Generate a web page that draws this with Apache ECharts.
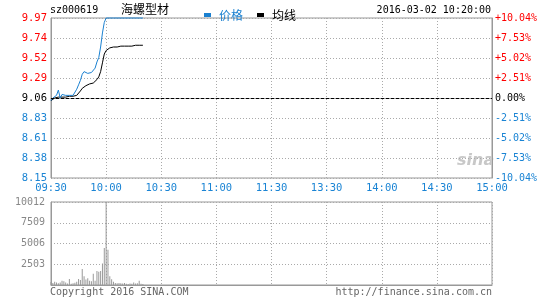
<!DOCTYPE html>
<html>
<head>
<meta charset="utf-8">
<title>海螺型材 分时</title>
<script src="https://cdn.jsdelivr.net/npm/echarts@6/dist/echarts.min.js"></script>
<style>
  html, body { margin: 0; padding: 0; background: #fff; }
  #chart { width: 545px; height: 300px; }
</style>
</head>
<body>
<div id="chart"></div>
<script>
  // 分时数据 09:30 起每分钟一个点
  const xLabels = ['09:30', '10:00', '10:30', '11:00', '11:30', '13:30', '14:00', '14:30', '15:00'];
  const priceLabels = ['8.15', '8.38', '8.61', '8.83', '9.06', '9.29', '9.52', '9.74', '9.97'];
  const pctLabels = ['-10.04%', '-7.53%', '-5.02%', '-2.51%', '0.00%', '+2.51%', '+5.02%', '+7.53%', '+10.04%'];
  const volLabels = ['', '2503', '5006', '7509', '10012'];

  const preClose = 9.06;
  const limitUp = 9.97;

  const priceData = [9.03, 9.06, 9.07, 9.09, 9.15, 9.06, 9.10, 9.08, 9.09, 9.08,
    9.09, 9.08, 9.09, 9.10, 9.16, 9.21, 9.26, 9.33, 9.36, 9.37,
    9.34, 9.32, 9.35, 9.37, 9.40, 9.47, 9.52, 9.64, 9.80, 9.92,
    9.97, 9.97, 9.97, 9.97, 9.97, 9.97, 9.97, 9.97, 9.97, 9.97,
    9.97, 9.97, 9.97, 9.97, 9.97, 9.97, 9.97, 9.97, 9.97, 9.97, 9.97];
  const avgData = [9.03, 9.05, 9.06, 9.06, 9.07, 9.07, 9.07, 9.07, 9.07, 9.08,
    9.08, 9.08, 9.08, 9.08, 9.09, 9.11, 9.14, 9.17, 9.19, 9.20,
    9.21, 9.22, 9.22, 9.23, 9.25, 9.27, 9.30, 9.36, 9.46, 9.56,
    9.60, 9.62, 9.63, 9.63, 9.64, 9.64, 9.64, 9.64, 9.65, 9.65,
    9.65, 9.65, 9.65, 9.65, 9.65, 9.66, 9.66, 9.66, 9.66, 9.66, 9.66];
  const volumeData = [350, 250, 380, 300, 220, 300, 520, 460, 300, 180,
    720, 150, 200, 260, 400, 720, 600, 1930, 1050, 650,
    800, 500, 450, 1350, 500, 1700, 1600, 1700, 2600, 4450,
    10012, 4250, 1050, 700, 400, 250, 200, 250, 200, 180,
    250, 150, 120, 180, 160, 300, 180, 220, 500, 150, 120];

  const colorUp = '#ff0000';
  const colorDown = '#1a84d4';
  const lineBlue = '#1a80d0';
  const gridGrey = '#999999';
  const monoFont = 'DejaVu Sans Mono';
  const cjkFont = 'Noto Sans CJK SC';

  // 价格 -> 纵轴刻度 (昨收为 0, 涨停为 1004)
  const axisMax = 1004;
  const axisStep = 251;
  function toAxis(p) {
    return (p - preClose) / (limitUp - preClose) * axisMax;
  }
  function labelIndex(v) {
    return Math.round((v + axisMax) / axisStep);
  }
  function labelColor(v) {
    let idx = labelIndex(v);
    if (idx > 4) return colorUp;
    if (idx < 4) return colorDown;
    return '#000000';
  }

  const chart = echarts.init(document.getElementById('chart'), null, {renderer: 'canvas'});

  chart.setOption({
    animation: false,
    legend: {
      left: 199,
      top: 4,
      itemWidth: 7,
      itemHeight: 4,
      itemGap: 14,
      icon: 'rect',
      textStyle: {
        fontFamily: cjkFont,
        fontSize: 12,
        padding: [0, 0, 0, 3]
      },
      data: [
        {name: '价格', itemStyle: {color: lineBlue}, textStyle: {color: lineBlue}},
        {name: '均线', itemStyle: {color: '#000'}, textStyle: {color: '#000'}}
      ]
    },
    grid: [
      {left: 51, right: 53, top: 18, height: 160, show: true, borderColor: gridGrey, borderWidth: 1},
      {left: 51, right: 53, top: 202, height: 83, show: true, borderColor: gridGrey, borderWidth: 1}
    ],
    xAxis: [{
      type: 'value',
      gridIndex: 0,
      min: 0,
      max: 240,
      interval: 30,
      axisLine: {show: true, lineStyle: {color: gridGrey}},
      axisTick: {show: false},
      axisLabel: {
        show: true,
        margin: 5,
        color: colorDown,
        fontFamily: monoFont,
        fontSize: 10.5,
        showMinLabel: true,
        showMaxLabel: true,
        formatter: function (v) {
          return xLabels[Math.round(v / 30)];
        }
      },
      splitLine: {show: true, lineStyle: {color: '#aaaaaa', type: [1, 2]}}
    }, {
      type: 'value',
      gridIndex: 1,
      min: 0,
      max: 240,
      interval: 30,
      axisLine: {show: true, lineStyle: {color: gridGrey}},
      axisTick: {show: false},
      axisLabel: {show: false},
      splitLine: {show: true, lineStyle: {color: '#aaaaaa', type: [1, 2]}}
    }],
    yAxis: [{
      type: 'value',
      gridIndex: 0,
      min: -axisMax,
      max: axisMax,
      interval: axisStep,
      axisLine: {show: true, lineStyle: {color: gridGrey}},
      axisTick: {show: false},
      axisLabel: {
        margin: 4,
        fontFamily: monoFont,
        fontSize: 10.5,
        color: function (v) {
          return labelColor(v);
        },
        formatter: function (v) {
          return priceLabels[labelIndex(v)];
        }
      },
      splitLine: {show: true, lineStyle: {color: '#aaaaaa', type: [1, 2]}}
    }, {
      type: 'value',
      gridIndex: 0,
      position: 'right',
      min: -axisMax,
      max: axisMax,
      interval: axisStep,
      axisLine: {show: true, lineStyle: {color: gridGrey}},
      axisTick: {show: false},
      axisLabel: {
        margin: 3,
        fontFamily: monoFont,
        fontSize: 10,
        color: function (v) {
          return labelColor(v);
        },
        formatter: function (v) {
          return pctLabels[labelIndex(v)];
        }
      },
      splitLine: {show: false}
    }, {
      type: 'value',
      gridIndex: 1,
      min: 0,
      max: 10012,
      interval: 2503,
      axisLine: {show: true, lineStyle: {color: gridGrey}},
      axisTick: {show: false},
      axisLabel: {
        margin: 6,
        fontFamily: monoFont,
        fontSize: 10,
        color: '#888888',
        formatter: function (v) {
          return volLabels[Math.round(v / 2503)];
        }
      },
      splitLine: {show: true, lineStyle: {color: '#aaaaaa', type: [1, 2]}}
    }],
    series: [{
      name: '价格',
      type: 'line',
      xAxisIndex: 0,
      yAxisIndex: 0,
      showSymbol: false,
      symbol: 'none',
      clip: false,
      lineStyle: {color: lineBlue, width: 1},
      itemStyle: {color: lineBlue},
      data: priceData.map((p, i) => [i, toAxis(p)]),
      markLine: {
        silent: true,
        symbol: 'none',
        label: {show: false},
        lineStyle: {color: '#000', type: [3, 2], width: 1},
        data: [{yAxis: 0}]
      },
      z: 3
    }, {
      name: '均线',
      type: 'line',
      xAxisIndex: 0,
      yAxisIndex: 0,
      showSymbol: false,
      symbol: 'none',
      lineStyle: {color: '#000', width: 1},
      itemStyle: {color: '#000'},
      data: avgData.map((p, i) => [i, toAxis(p)]),
      z: 2
    }, {
      name: '成交量',
      type: 'bar',
      xAxisIndex: 1,
      yAxisIndex: 2,
      barWidth: 1,
      itemStyle: {color: '#999999'},
      data: volumeData.map((v, i) => [i, v])
    }],
    graphic: [{
      type: 'text',
      left: 50,
      top: 5,
      style: {text: 'sz000619', font: '10px "DejaVu Sans Mono"', fill: '#000'}
    }, {
      type: 'text',
      left: 121,
      top: 3,
      style: {text: '海螺型材', font: '12px "Noto Sans CJK SC"', fill: '#000'}
    }, {
      type: 'text',
      right: 54,
      top: 5,
      style: {text: '2016-03-02 10:20:00', font: '10px "DejaVu Sans Mono"', fill: '#000'}
    }, {
      type: 'text',
      left: 457,
      top: 153,
      style: {text: 'sina', font: 'italic bold 16px "DejaVu Sans"', fill: '#c8c8c8'}
    }, {
      type: 'text',
      left: 50,
      top: 287,
      style: {text: 'Copyright 2016 SINA.COM', font: '10px "DejaVu Sans Mono"', fill: '#666'}
    }, {
      type: 'text',
      right: 53,
      top: 287,
      style: {text: 'http://finance.sina.com.cn', font: '10px "DejaVu Sans Mono"', fill: '#666'}
    }]
  });
</script>
</body>
</html>
